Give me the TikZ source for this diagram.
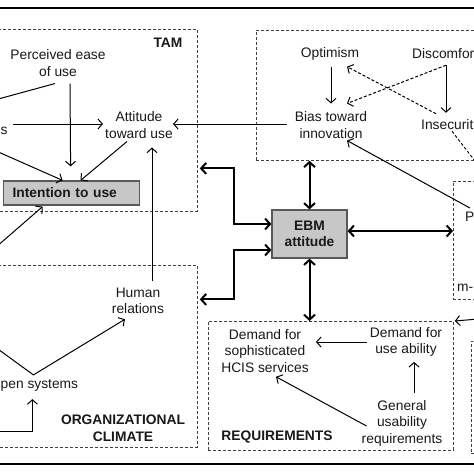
\documentclass[tikz,border=0pt]{standalone}
\usepackage{fontspec}
\setmainfont{Liberation Sans}
\usetikzlibrary{arrows.meta}
\begin{document}
\begin{tikzpicture}[x=1pt,y=-1pt,
  txt/.style={font=\fontsize{13.8}{16.5}\selectfont, align=center, inner sep=0pt, text=black!90},
  bld/.style={txt, font=\fontsize{13.8}{16.5}\selectfont\bfseries},
  gbox/.style={draw=black!65, fill=black!22, line width=1.2pt, bld},
  dbox/.style={draw=black!75, line width=0.8pt, dash pattern=on 3pt off 2pt, inner sep=0pt, anchor=north west},
  arr/.style={line width=1pt, -{Straight Barb[length=4.5pt,width=10pt]}},
  darr/.style={arr, dash pattern=on 3pt off 2pt},
  tarr/.style={line width=2pt, {Straight Barb[length=5pt,width=11pt]}-{Straight Barb[length=5pt,width=11pt]}},
]
\useasboundingbox (0,0) rectangle (474,474);
\fill[white] (0,0) rectangle (474,474);
\clip (0,0) rectangle (474,474);

% frame lines
\draw[line width=2.5pt] (-5,8) -- (480,8);
\draw[line width=2.5pt] (-5,464) -- (480,464);

% dashed boxes
\node[dbox, minimum width=207pt, minimum height=182pt] (tambox) at (-10,29) {};
\node[dbox, minimum width=254pt, minimum height=130pt] (biasbox) at (256,30) {};
\node[dbox, minimum width=207pt, minimum height=182pt] (orgbox) at (-10,265) {};
\node[dbox, minimum width=245pt, minimum height=129pt] (reqbox) at (208,321) {};
\node[dbox, minimum width=60pt, minimum height=118pt] (rbox) at (453,181) {};
\node[dbox, minimum width=40pt, minimum height=112pt] (lrbox) at (471,341) {};

% text nodes
\node[txt] (pe) at (58,63) {Perceived ease\\of use};
\node[txt, anchor=west] (pu) at (0.5,131) {s};
\node[txt] (att) at (139,125) {Attitude\\toward use};
\node[bld] (tam) at (168,43) {TAM};
\node[gbox, anchor=west, minimum height=24pt, text width=118pt, inner xsep=9pt, inner ysep=0pt, align=left] (int) at (3,193) {Intention to use};
\node[txt] (opt) at (330,54) {Optimism};
\node[txt, anchor=west] (dis) at (412,54) {Discomfor};
\node[txt] (bias) at (331,125) {Bias toward\\innovation};
\node[txt, anchor=west] (ins) at (421,125) {Insecurit};
\node[txt, anchor=west] (pp) at (465,217) {P};
\node[txt, anchor=west] (mm) at (457,288) {m-};
\node[gbox, minimum width=75pt, minimum height=48pt] (ebm) at (309.5,234) {EBM\\attitude};
\node[txt] (hr) at (138,301) {Human\\relations};
\node[txt, anchor=west] (os) at (0.5,385) {pen systems};
\node[bld] (oc) at (123,428) {ORGANIZATIONAL\\CLIMATE};
\node[txt] (soph) at (265,351) {Demand for\\sophisticated\\HCIS services};
\node[txt] (dua) at (406,342) {Demand for\\use ability};
\node[txt] (gur) at (402,423) {General\\usability\\requirements};
\node[bld] (req) at (277,437) {REQUIREMENTS};

% off-picture ends
\coordinate (c1) at (-20,104);
\coordinate (sn) at (-20,261);
\coordinate (ol) at (-20,336);
\coordinate (bl) at (-20,431);
\coordinate (c5) at (485,174);
\coordinate (c6) at (490,318);

% TAM connectors
\draw[arr] ([shift={(-3,7)}]pe.south) -- (c1);
\draw[arr] ([shift={(12,7)}]pe.south) -- ([shift={(-1,-14)}]int.north);
\draw[arr] ([shift={(5,-7)}]pu.east) -- ([shift={(-2,-1)}]att.west);
\draw[arr] ([shift={(-24,9)}]pu.south) -- ([shift={(-9,0)}]int.north);
\draw[arr] ([shift={(-12,3)}]att.south) -- ([shift={(9,0)}]int.north);
\draw[arr] ([shift={(-8,-1)}]bias.west) -- ([shift={(0,-1)}]att.east);
\draw[arr] ([shift={(14,-7)}]hr.north) -- ([shift={(13,9)}]att.south);
\draw[arr] (sn) -- ([shift={(-29,1)}]int.south);

% organizational climate connectors
\draw[arr] (ol) -- ([shift={(-6,-4)}]os.north) -- ([shift={(-13,5)}]hr.south);
\draw[arr] (bl) -| ([shift={(-7,8)}]os.south);

% bias box connectors
\draw[arr] ([shift={(1,6)}]opt.south) -- ([shift={(0,-8)}]bias.north);
\draw[arr] ([shift={(34,6)}]dis.south west) -- ([shift={(25,-7)}]ins.north west);
\draw[darr] ([shift={(34,6)}]dis.south west) -- ([shift={(16,-8)}]bias.north);
\draw[darr] ([shift={(15,-6)}]ins.north west) -- ([shift={(17,6)}]opt.south);
\draw[dash pattern=on 3pt off 2pt, line width=0.9pt] ([shift={(31,1)}]ins.south west) -- (c5);
\draw[arr] ([shift={(5,-4)}]pp.north west) -- ([shift={(16,2)}]bias.south);

% EBM connectors
\draw[tarr] (ebm.north) -- (ebm.north |- biasbox.south);
\draw[tarr] (ebm.south) -- (ebm.south |- reqbox.north);
\draw[tarr] ([yshift=3pt]ebm.east) -- ([yshift=3pt]ebm.east -| rbox.west);
\draw[tarr] ([shift={(0,-10)}]ebm.west) -- ++(-37,0) |- ([shift={(2,48)}]tambox.east);
\draw[tarr] ([shift={(0,16)}]ebm.west) -- ++(-37,0) |- ([shift={(2,-57)}]orgbox.east);

% requirements connectors
\draw[arr] ([shift={(-3,0)}]dua.west) -- ([shift={(7,-9)}]soph.east);
\draw[arr] ([shift={(12,-7)}]gur.north) -- ([shift={(8,5)}]dua.south);
\draw[arr] ([shift={(5,3)}]gur.west) -- ([shift={(11,4)}]soph.south);
\draw[arr] (c6) -- ([shift={(1,0)}]reqbox.north east);
\end{tikzpicture}
\end{document}
